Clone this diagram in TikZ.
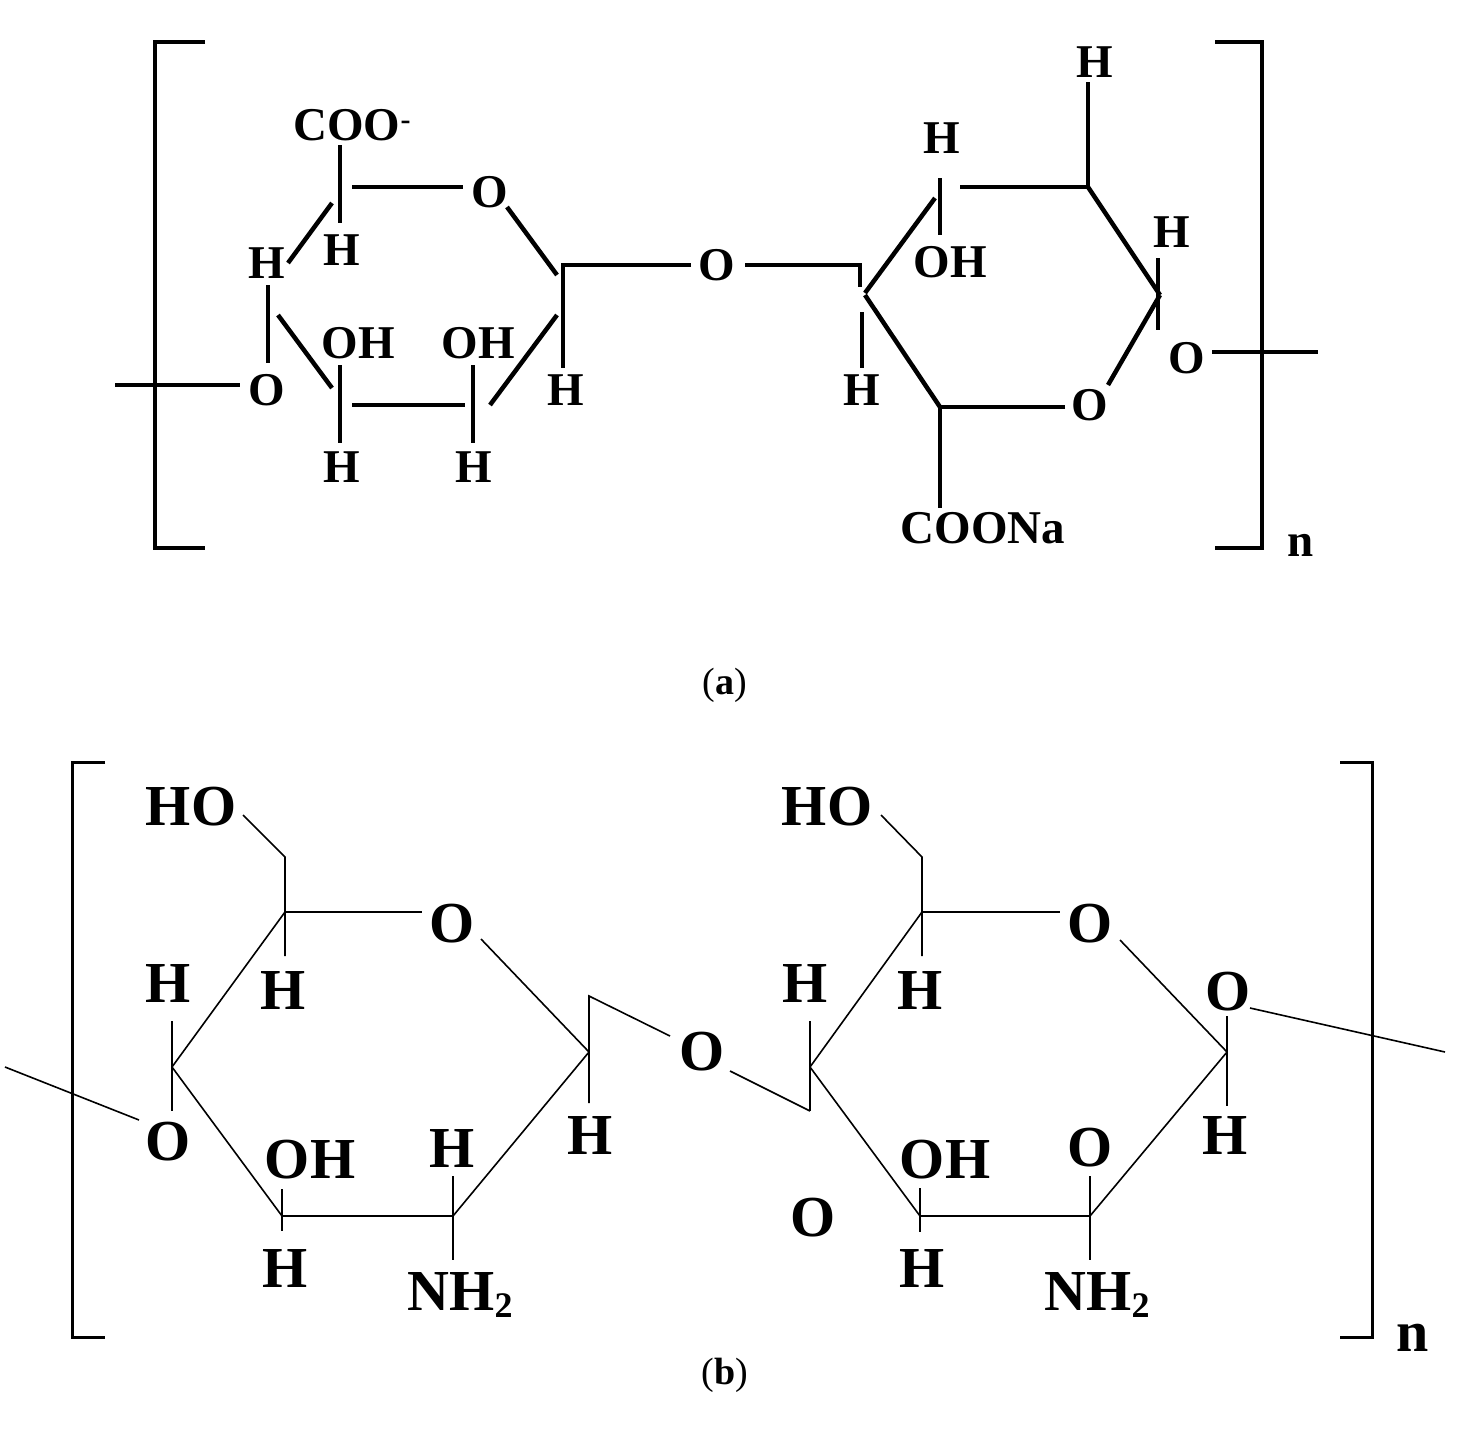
\documentclass[tikz,border=0pt]{standalone}
\usepackage{fontspec}
\setmainfont{Liberation Serif}
\begin{document}
\begin{tikzpicture}[x=1pt,y=-1pt,
  ta/.style={inner sep=0pt,font=\fontsize{47}{50}\selectfont\bfseries},
  tb/.style={inner sep=0pt,font=\fontsize{58}{62}\selectfont\bfseries},
  bondA/.style={line width=4.5pt},
  bondB/.style={line width=1.6pt},
  brA/.style={line width=4.5pt},
  brB/.style={line width=3pt}]
\useasboundingbox (0,0) rectangle (1481,1436);
% ---------------- (a) ----------------
\draw[brA] (205,42) -- (155,42) -- (155,548) -- (205,548);
\draw[brA] (1215,42) -- (1262,42) -- (1262,548) -- (1215,548);
\node[ta] (na) at (1301,545) {n};
% left ring
\node[ta] (coo) at (352,125) {COO\raisebox{0.5ex}{\fontsize{30}{32}\selectfont -}};
\node[ta] (o1) at (490,192) {O};
\node[ta] (h1) at (342,250) {H};
\node[ta] (h2) at (267,263) {H};
\node[ta] (o2) at (267,390) {O};
\node[ta] (oh1) at (358,343) {OH};
\node[ta] (oh2) at (478,343) {OH};
\node[ta] (h3) at (342,467) {H};
\node[ta] (h4) at (474,467) {H};
\node[ta] (h5) at (566,390) {H};
\node[ta] (ob) at (717,265) {O};
\draw[bondA] (340,145) -- (340,223);
\draw[bondA] (352,187) -- (463,187);
\draw[bondA] (507,207) -- (557,275);
\draw[bondA] (691,265) -- (563,265) -- (563,368);
\draw[bondA] (557,315) -- (490,405);
\draw[bondA] (352,405) -- (465,405);
\draw[bondA] (340,365) -- (340,443);
\draw[bondA] (473,365) -- (473,443);
\draw[bondA] (278,315) -- (332,388);
\draw[bondA] (268,285) -- (268,363);
\draw[bondA] (288,263) -- (332,203);
\draw[bondA] (115,385) -- (240,385);
% right ring
\node[ta] (h6) at (942,138) {H};
\node[ta] (oh3) at (950,262) {OH};
\node[ta] (h7) at (1095,62) {H};
\node[ta] (h8) at (1172,232) {H};
\node[ta] (o3) at (1187,358) {O};
\node[ta] (o4) at (1090,405) {O};
\node[ta] (h9) at (862,390) {H};
\node[ta] (coona) at (983,528) {COONa};
\draw[bondA] (745,265) -- (860,265) -- (860,287);
\draw[bondA] (865,293) -- (935,198);
\draw[bondA] (940,178) -- (940,235);
\draw[bondA] (960,187) -- (1088,187) -- (1088,82);
\draw[bondA] (1088,187) -- (1160,295);
\draw[bondA] (1158,258) -- (1158,330);
\draw[bondA] (1160,295) -- (1108,385);
\draw[bondA] (1212,352) -- (1318,352);
\draw[bondA] (1065,407) -- (940,407) -- (940,508);
\draw[bondA] (940,407) -- (865,295);
\draw[bondA] (862,312) -- (862,368);
\node[inner sep=0pt,font=\fontsize{38}{42}\selectfont] (la) at (725,685) {(\textbf{a})};
% ---------------- (b) ----------------
\draw[brB] (105,762) -- (72,762) -- (72,1337) -- (105,1337);
\draw[brB] (1340,762) -- (1372,762) -- (1372,1337) -- (1340,1337);
\node[tb] (nb) at (1413,1338) {n};
% left ring
\node[tb] (ho1) at (191,807) {HO};
\node[tb] (ob1) at (452,924) {O};
\node[tb] (hb1) at (283,990) {H};
\node[tb] (hb2) at (168,983) {H};
\node[tb] (ob2) at (168,1142) {O};
\node[tb] (ohb1) at (310,1160) {OH};
\node[tb] (hb3) at (452,1148) {H};
\node[tb] (hb4) at (590,1135) {H};
\node[tb] (hb5) at (285,1268) {H};
\node[tb] (nh1) at (460,1295) {NH\raisebox{-0.25ex}{\fontsize{36}{38}\selectfont 2}};
\node[tb] (obr) at (702,1052) {O};
\draw[bondB] (243,815) -- (285,857) -- (285,956);
\draw[bondB] (285,912) -- (422,912);
\draw[bondB] (481,939) -- (589,1052);
\draw[bondB] (670,1036) -- (589,996) -- (589,1103);
\draw[bondB] (589,1052) -- (453,1216);
\draw[bondB] (453,1176) -- (453,1260);
\draw[bondB] (453,1216) -- (282,1216);
\draw[bondB] (282,1189) -- (282,1231);
\draw[bondB] (282,1216) -- (172,1067) -- (285,912);
\draw[bondB] (172,1021) -- (172,1111);
\draw[bondB] (5,1067) -- (139,1120);
% right ring
\node[tb] (ho2) at (827,807) {HO};
\node[tb] (ob3) at (1090,924) {O};
\node[tb] (hb6) at (920,990) {H};
\node[tb] (hb7) at (805,983) {H};
\node[tb] (ob4) at (1228,992) {O};
\node[tb] (hb8) at (1225,1135) {H};
\node[tb] (ob5) at (1090,1148) {O};
\node[tb] (ohb2) at (945,1160) {OH};
\node[tb] (ob6) at (813,1218) {O};
\node[tb] (hb9) at (922,1268) {H};
\node[tb] (nh2) at (1097,1295) {NH\raisebox{-0.25ex}{\fontsize{36}{38}\selectfont 2}};
\draw[bondB] (881,815) -- (922,857) -- (922,956);
\draw[bondB] (922,912) -- (1060,912);
\draw[bondB] (1120,940) -- (1227,1052);
\draw[bondB] (1227,1016) -- (1227,1106);
\draw[bondB] (1250,1008) -- (1445,1052);
\draw[bondB] (1227,1052) -- (1090,1216);
\draw[bondB] (1090,1176) -- (1090,1260);
\draw[bondB] (1090,1216) -- (920,1216);
\draw[bondB] (920,1188) -- (920,1232);
\draw[bondB] (920,1216) -- (810,1067) -- (922,912);
\draw[bondB] (810,1021) -- (810,1111);
\draw[bondB] (730,1071) -- (810,1111);
\node[inner sep=0pt,font=\fontsize{38}{42}\selectfont] (lb) at (725,1375) {(\textbf{b})};
\end{tikzpicture}
\end{document}
